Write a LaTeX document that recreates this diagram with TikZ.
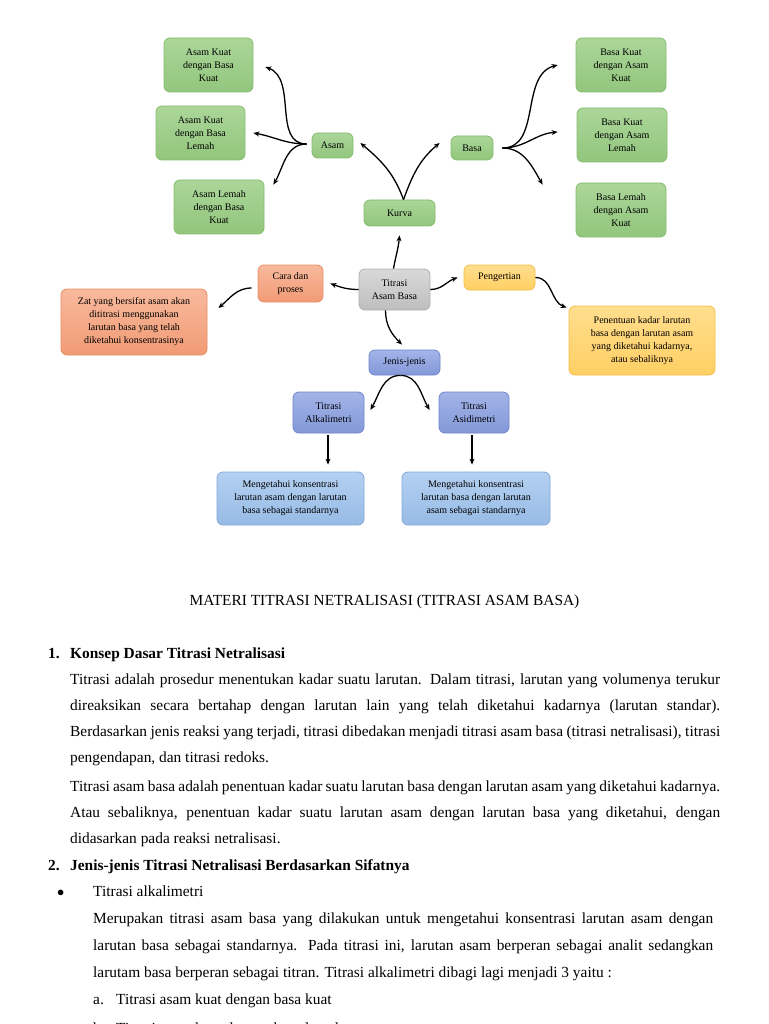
\documentclass[tikz,border=0pt]{standalone}
\usepackage{fontspec}
\setmainfont{Liberation Serif}
\usetikzlibrary{arrows.meta}
\definecolor{greentop}{HTML}{ABD699}
\definecolor{greenbot}{HTML}{92C67D}
\definecolor{greenline}{HTML}{86BC6F}
\definecolor{graytop}{HTML}{D9D9D9}
\definecolor{graybot}{HTML}{BEBEBE}
\definecolor{grayline}{HTML}{AFAFAF}
\definecolor{salmontop}{HTML}{F8B99D}
\definecolor{salmonbot}{HTML}{F19B75}
\definecolor{salmonline}{HTML}{E98E66}
\definecolor{yellowtop}{HTML}{FFDE8E}
\definecolor{yellowbot}{HTML}{FFCF63}
\definecolor{yellowline}{HTML}{F6BE45}
\definecolor{violettop}{HTML}{A3B4E8}
\definecolor{violetbot}{HTML}{8398D8}
\definecolor{violetline}{HTML}{6F86CC}
\definecolor{skytop}{HTML}{B4D0F1}
\definecolor{skybot}{HTML}{97BBE6}
\definecolor{skyline}{HTML}{83A9DA}
\begin{document}
\begin{tikzpicture}[x=1pt,y=1pt,
    box/.style={draw,rounded corners=6pt,align=center,inner sep=1pt,line width=.8pt,
        font=\fontsize{10}{13}\selectfont},
    greenbox/.style={box,draw=greenline,top color=greentop,bottom color=greenbot},
    graybox/.style={box,draw=grayline,top color=graytop,bottom color=graybot},
    salmonbox/.style={box,draw=salmonline,top color=salmontop,bottom color=salmonbot},
    yellowbox/.style={box,draw=yellowline,top color=yellowtop,bottom color=yellowbot},
    violetbox/.style={box,draw=violetline,top color=violettop,bottom color=violetbot},
    skybox/.style={box,draw=skyline,top color=skytop,bottom color=skybot},
    conn/.style={line width=1.3pt,-{Stealth[length=6pt,width=5pt]}},
    body/.style={anchor=base west,inner sep=0pt,font=\fontsize{15.4}{18}\selectfont},
    head/.style={body,font=\fontsize{15.4}{18}\selectfont\bfseries}]
    \clip (0,0) rectangle (768,-1024);
    \fill[white] (0,0) rectangle (768,-1024);

    \node[greenbox,minimum width=89pt,minimum height=54pt] (akbk) at (208.5,-65) {Asam Kuat\\dengan Basa\\Kuat};
    \node[greenbox,minimum width=89pt,minimum height=54pt] (akbl) at (200.5,-133) {Asam Kuat\\dengan Basa\\Lemah};
    \node[greenbox,minimum width=90pt,minimum height=54pt] (albk) at (219,-207) {Asam Lemah\\dengan Basa\\Kuat};
    \node[greenbox,minimum width=41pt,minimum height=25pt] (asam) at (332.5,-145.5) {Asam};
    \node[greenbox,minimum width=42pt,minimum height=24pt] (basa) at (472,-148) {Basa};
    \node[greenbox,minimum width=71pt,minimum height=26pt] (kurva) at (399.5,-213) {Kurva};
    \node[greenbox,minimum width=90pt,minimum height=54pt] (bkak) at (621,-65) {Basa Kuat\\dengan Asam\\Kuat};
    \node[greenbox,minimum width=90pt,minimum height=54pt] (bkal) at (622,-135) {Basa Kuat\\dengan Asam\\Lemah};
    \node[greenbox,minimum width=90pt,minimum height=54pt] (blak) at (621,-210) {Basa Lemah\\dengan Asam\\Kuat};

    \node[graybox,minimum width=71pt,minimum height=41pt] (titrasi) at (394.5,-289.5) {Titrasi\\Asam Basa};
    \node[salmonbox,minimum width=65pt,minimum height=37pt] (cara) at (290.5,-283.5) {Cara dan\\proses};
    \node[salmonbox,minimum width=146pt,minimum height=66pt] (zat) at (134,-322)
        {Zat yang bersifat asam akan\\dititrasi menggunakan\\larutan basa yang telah\\diketahui konsentrasinya};
    \node[yellowbox,minimum width=71pt,minimum height=25pt] (peng) at (499.5,-277.5) {Pengertian};
    \node[yellowbox,minimum width=146pt,minimum height=69pt] (pen) at (642,-340.5)
        {Penentuan kadar larutan\\basa dengan larutan asam\\yang diketahui kadarnya,\\atau sebaliknya};

    \node[violetbox,minimum width=71pt,minimum height=25pt] (jenis) at (404.5,-362.5) {Jenis-jenis};
    \node[violetbox,minimum width=71pt,minimum height=41pt] (alk) at (328.5,-412.5) {Titrasi\\Alkalimetri};
    \node[violetbox,minimum width=70pt,minimum height=41pt] (asid) at (474,-412.5) {Titrasi\\Asidimetri};
    \node[skybox,minimum width=147pt,minimum height=53pt] (mka) at (290.5,-498.5)
        {Mengetahui konsentrasi\\larutan asam dengan larutan\\basa sebagai standarnya};
    \node[skybox,minimum width=148pt,minimum height=53pt] (mkb) at (476,-498.5)
        {Mengetahui konsentrasi\\larutan basa dengan larutan\\asam sebagai standarnya};

    \draw[conn] ([shift={(-5pt,1.5pt)}]asam.west) to[out=180,in=-20] ([shift={(12pt,-2pt)}]akbk.east);
    \draw[conn] ([shift={(-5pt,1.5pt)}]asam.west) to[out=180,in=-10] ([xshift=8pt]akbl.east);
    \draw[conn] ([shift={(-5pt,1.5pt)}]asam.west) to[out=180,in=60] ([shift={(9pt,-5pt)}]albk.north east);
    \draw[conn] ([xshift=4pt]kurva.north) to[out=110,in=-40] ([shift={(7pt,2.5pt)}]asam.east);
    \draw[conn] ([xshift=4pt]kurva.north) to[out=70,in=220] ([shift={(-11pt,5pt)}]basa.west);
    \draw[conn] ([xshift=9pt]basa.east) to[out=0,in=195] ([xshift=-18pt]bkak.west);
    \draw[conn] ([xshift=9pt]basa.east) to[out=0,in=185] ([shift={(-19pt,3pt)}]bkal.west);
    \draw[conn] ([xshift=9pt]basa.east) to[out=0,in=120] ([shift={(-33pt,-2pt)}]blak.north west);

    \draw[conn] ([xshift=-1pt]titrasi.north) to[out=80,in=-95] ([yshift=-9pt]kurva.south);
    \draw[conn] (titrasi.west) to[out=180,in=-20] ([xshift=7pt]cara.east);
    \draw[conn] ([shift={(-6pt,-4.5pt)}]cara.west) to[out=180,in=40] ([shift={(11pt,14pt)}]zat.east);
    \draw[conn] (titrasi.east) to[out=0,in=200] ([xshift=-6pt]peng.west);
    \draw[conn] (peng.east) to[out=0,in=160] ([shift={(-2pt,-2pt)}]pen.north west);
    \draw[conn] ([xshift=-9pt]titrasi.south) to[out=-90,in=135] ([shift={(-2.5pt,5pt)}]jenis.north);
    \draw[conn] ([xshift=-4pt]jenis.south) to[out=180,in=60] ([shift={(6pt,2.5pt)}]alk.east);
    \draw[conn] ([xshift=-4pt]jenis.south) to[out=0,in=120] ([shift={(-9pt,2.5pt)}]asid.west);
    \draw[conn] ([shift={(-.5pt,-2pt)}]alk.south) -- ([shift={(-.5pt,7pt)}]alk.south |- mka.north);
    \draw[conn] ([shift={(-2pt,-2pt)}]asid.south) -- ([shift={(-2pt,7pt)}]asid.south |- mkb.north);

    \node[body,anchor=base] (judul) at (384.5,-605) {MATERI TITRASI NETRALISASI (TITRASI ASAM BASA)};

    \node[head] (n1) at (48,-658) {1.};
    \node[head] (h1) at (70,-658) {Konsep Dasar Titrasi Netralisasi};
    \node[body] (p1) at (70,-684) {\makebox[650pt][s]{Titrasi adalah prosedur menentukan kadar suatu larutan. Dalam titrasi, larutan yang volumenya terukur}};
    \node[body] (p2) at (70,-710) {\makebox[650pt][s]{direaksikan secara bertahap dengan larutan lain yang telah diketahui kadarnya (larutan standar).}};
    \node[body] (p3) at (70,-736) {\makebox[650pt][s]{Berdasarkan jenis reaksi yang terjadi, titrasi dibedakan menjadi titrasi asam basa (titrasi netralisasi), titrasi}};
    \node[body] (p4) at (70,-762) {pengendapan, dan titrasi redoks.};
    \node[body] (p5) at (70,-791) {\makebox[650pt][s]{Titrasi asam basa adalah penentuan kadar suatu larutan basa dengan larutan asam yang diketahui kadarnya.}};
    \node[body] (p6) at (70,-817) {\makebox[650pt][s]{Atau sebaliknya, penentuan kadar suatu larutan asam dengan larutan basa yang diketahui, dengan}};
    \node[body] (p7) at (70,-843) {didasarkan pada reaksi netralisasi.};

    \node[head] (n2) at (48,-870) {2.};
    \node[head] (h2) at (70,-870) {Jenis-jenis Titrasi Netralisasi Berdasarkan Sifatnya};
    \node[body] (bul) at (57,-896) {$\bullet$};
    \node[body] (q0) at (93,-896) {Titrasi alkalimetri};
    \node[body] (q1) at (93,-923) {\makebox[620pt][s]{Merupakan titrasi asam basa yang dilakukan untuk mengetahui konsentrasi larutan asam dengan}};
    \node[body] (q2) at (93,-950) {\makebox[620pt][s]{larutan basa sebagai standarnya. Pada titrasi ini, larutan asam berperan sebagai analit sedangkan}};
    \node[body] (q3) at (93,-977) {larutam basa berperan sebagai titran. Titrasi alkalimetri dibagi lagi menjadi 3 yaitu :};
    \node[body] (ma) at (93,-1004) {a.};
    \node[body] (qa) at (116,-1004) {Titrasi asam kuat dengan basa kuat};
    \node[body] (mb) at (93,-1033) {b.};
    \node[body] (qb) at (116,-1033) {Titrasi asam kuat dengan basa lemah};
\end{tikzpicture}
\end{document}
